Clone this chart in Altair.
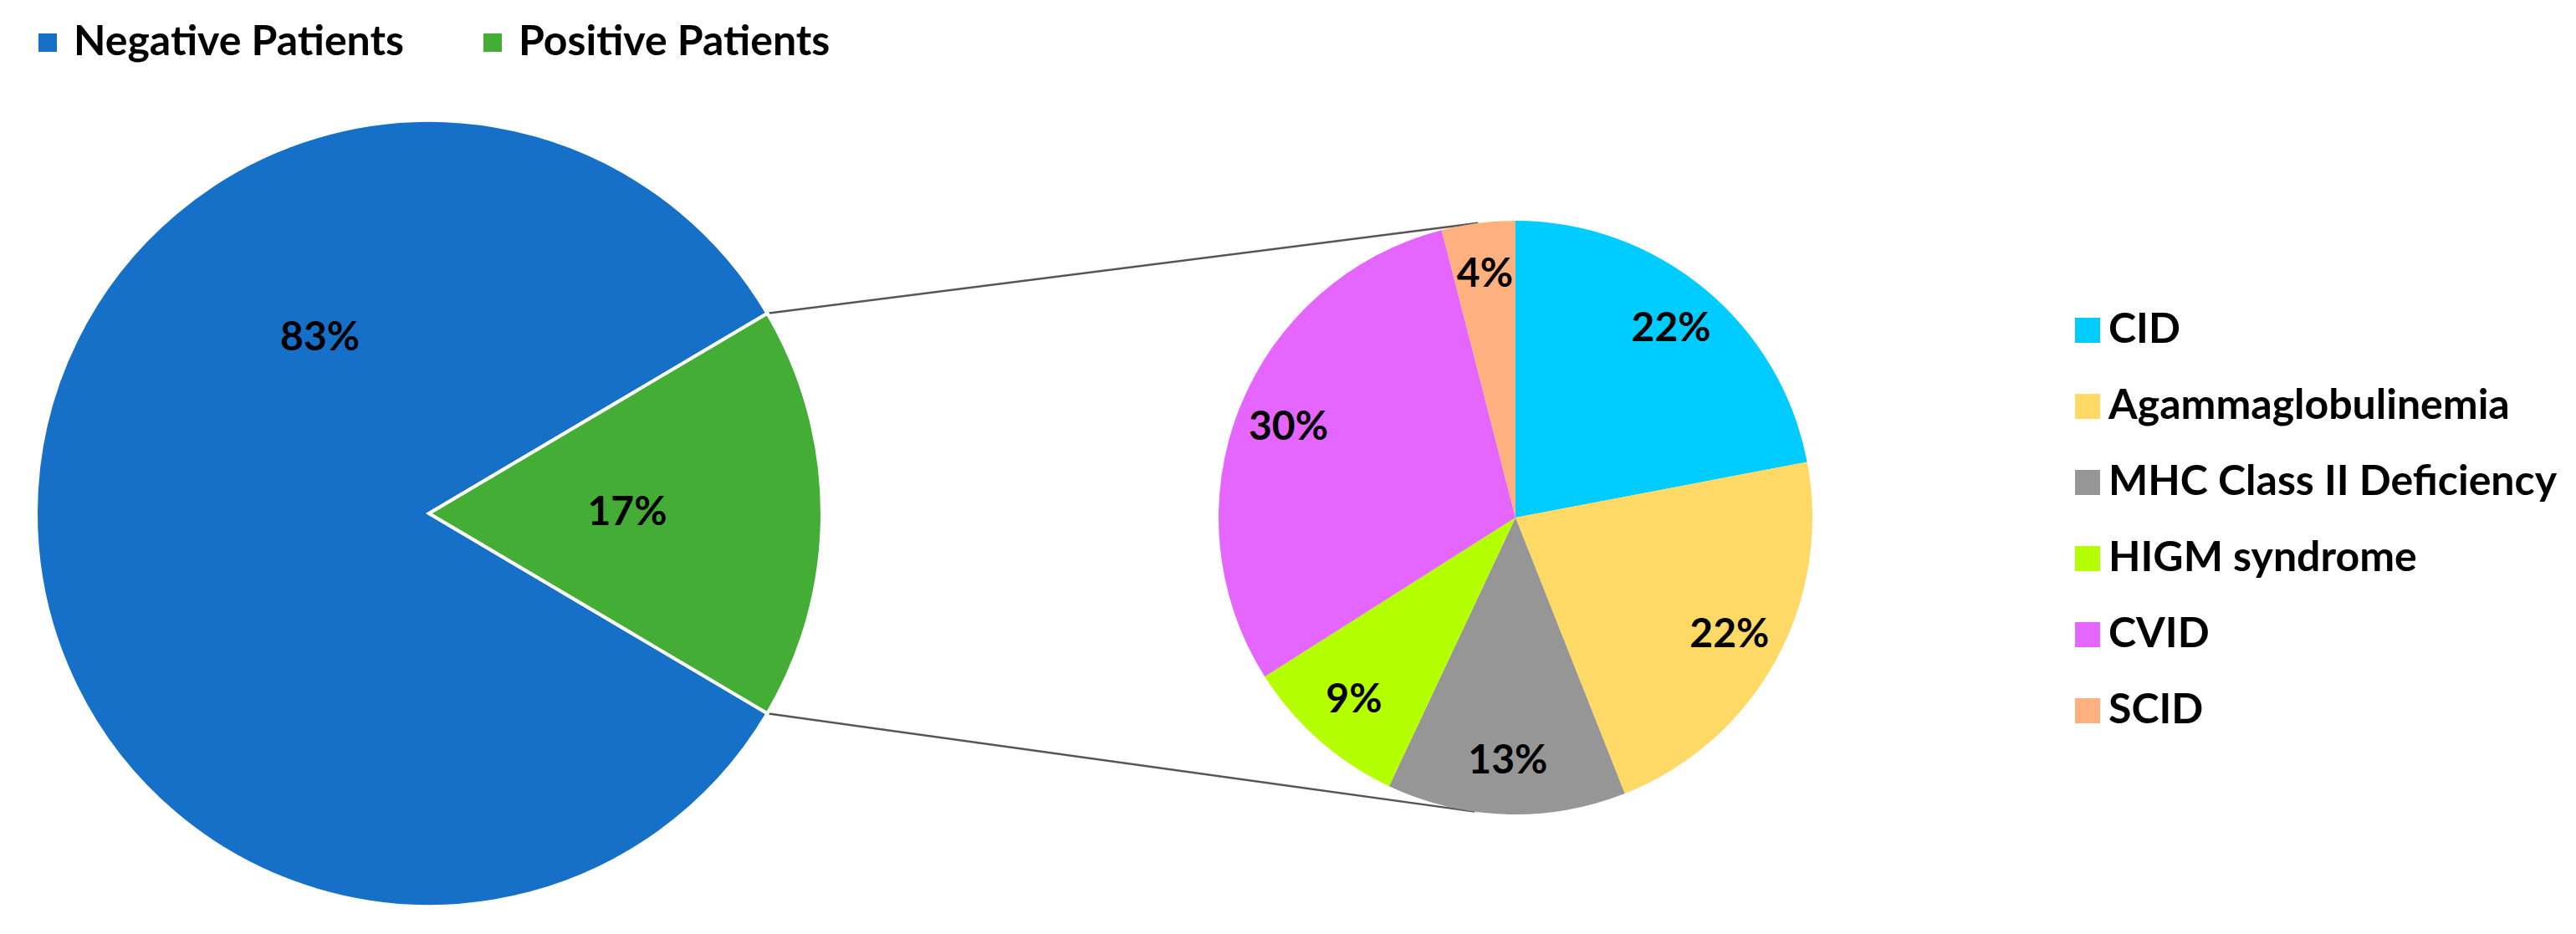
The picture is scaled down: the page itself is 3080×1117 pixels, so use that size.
import math
import altair as alt
import pandas as pd

# ---------------- data ----------------
main_categories = ["Negative Patients", "Positive Patients"]
main_values = [83, 17]
main_colors = ["#1670C8", "#44AD36"]

sub_categories = ["CID", "Agammaglobulinemia", "MHC Class II Deficiency",
                  "HIGM syndrome", "CVID", "SCID"]
sub_values = [22, 22, 13, 9, 30, 4]
sub_colors = ["#00CCFF", "#FFD966", "#969696", "#B4FF00", "#E566FF", "#FFB07F"]

# ---------------- layout ----------------
W, H = 3064, 1101
C1 = (505, 606)   # main pie centre
R1 = 470
C2 = (1804, 611)  # secondary pie centre
R2 = 355
FONT = "Lato"
LABEL_SIZE = 48
LEGEND_SIZE = 50

total_main = sum(main_values)
pos_share = main_values[1] / total_main
start = math.pi / 2 - math.pi * pos_share          # positive wedge centred at 3 o'clock
main_range = [start, start + 2 * math.pi]

main_df = pd.DataFrame({
    "category": main_categories,
    "value": main_values,
    "order": [1, 0],
    "label": [f"{v}%" for v in main_values],
})
main_df["pos_label"] = [l if c == "Positive Patients" else "" for c, l in zip(main_categories, main_df["label"])]

sub_df = pd.DataFrame({
    "category": sub_categories,
    "value": sub_values,
    "order": list(range(len(sub_values))),
    "label": [f"{v}%" for v in sub_values],
})

# connector lines: from the positive wedge corners to tangents of the secondary pie
def corner(theta):
    return (C1[0] + R1 * math.sin(theta), C1[1] - R1 * math.cos(theta))

def tangent(p, sign):
    dx, dy = p[0] - C2[0], p[1] - C2[1]
    d = math.hypot(dx, dy)
    phi = math.atan2(dy, dx)
    a = math.acos(R2 / d)
    ang = phi + sign * a
    return (C2[0] + R2 * math.cos(ang), C2[1] + R2 * math.sin(ang))

p_up = corner(start)
p_lo = corner(start + 2 * math.pi * pos_share)
t_up = tangent(p_up, 1)
t_lo = tangent(p_lo, -1)
lines_df = pd.DataFrame({
    "x": [p_up[0], p_lo[0]], "y": [p_up[1], p_lo[1]],
    "x2": [t_up[0], t_lo[0]], "y2": [t_up[1], t_lo[1]],
})

# ---------------- layers ----------------
lines = alt.Chart(lines_df).mark_rule(color="#555555", strokeWidth=2.5).encode(
    x=alt.X("x:Q", scale=None, axis=None),
    y=alt.Y("y:Q", scale=None, axis=None),
    x2="x2:Q",
    y2="y2:Q",
)

main_theta = alt.Theta("value:Q", stack=True, scale=alt.Scale(range=main_range))
main_arc = alt.Chart(main_df).mark_arc(outerRadius=R1, stroke="white", strokeWidth=4).encode(
    theta=main_theta,
    order=alt.Order("order:Q"),
    color=alt.Color(
        "category:N",
        scale=alt.Scale(domain=main_categories, range=main_colors),
        legend=alt.Legend(
            title=None, orient="none", legendX=24, legendY=18, direction="horizontal",
            symbolType="square", symbolSize=484, symbolStrokeWidth=0,
            labelFont=FONT, labelFontSize=LEGEND_SIZE, labelFontWeight="bold",
            labelColor="black", labelOffset=6, labelLimit=2000,
            columnPadding=80, padding=0,
        ),
    ),
    x=alt.value(C1[0]),
    y=alt.value(C1[1]),
)

main_text = alt.Chart(main_df).mark_text(
    radius=237, font=FONT, fontSize=LABEL_SIZE, fontWeight="bold", color="black"
).encode(
    theta=alt.Theta("value:Q", stack=True, scale=alt.Scale(range=main_range)),
    order=alt.Order("order:Q"),
    text="pos_label:N",
    x=alt.value(C1[0]),
    y=alt.value(C1[1]),
)

neg_text = alt.Chart(main_df).transform_filter(
    alt.datum.category == "Negative Patients"
).mark_text(
    radius=246, font=FONT, fontSize=LABEL_SIZE, fontWeight="bold", color="black"
).encode(
    text="label:N",
    theta=alt.value(math.radians(328)),
    x=alt.value(C1[0]),
    y=alt.value(C1[1]),
)

sub_theta = alt.Theta("value:Q", stack=True, scale=alt.Scale(range=[0, 2 * math.pi]))
sub_arc = alt.Chart(sub_df).mark_arc(outerRadius=R2).encode(
    theta=sub_theta,
    order=alt.Order("order:Q"),
    color=alt.Color(
        "category:N",
        scale=alt.Scale(domain=sub_categories, range=sub_colors),
        legend=alt.Legend(
            title=None, orient="none", legendX=2463, legendY=362, direction="vertical",
            symbolType="square", symbolSize=900, symbolStrokeWidth=0,
            labelFont=FONT, labelFontSize=LEGEND_SIZE, labelFontWeight="bold",
            labelColor="black", labelOffset=0, labelLimit=2000,
            rowPadding=41, padding=0,
        ),
    ),
    x=alt.value(C2[0]),
    y=alt.value(C2[1]),
)

sub_text = alt.Chart(sub_df).mark_text(
    radius=292, font=FONT, fontSize=LABEL_SIZE, fontWeight="bold", color="black"
).encode(
    theta=alt.Theta("value:Q", stack=True, scale=alt.Scale(range=[0, 2 * math.pi])),
    order=alt.Order("order:Q"),
    text="label:N",
    x=alt.value(C2[0]),
    y=alt.value(C2[1]),
)

chart = alt.layer(
    lines, main_arc, main_text, neg_text, sub_arc, sub_text
).resolve_scale(
    theta="independent", color="independent"
).properties(
    width=W, height=H, padding=0, background="white"
).configure_view(stroke=None)

chart.save("out.html", embed_options={"renderer": "svg", "actions": False})
